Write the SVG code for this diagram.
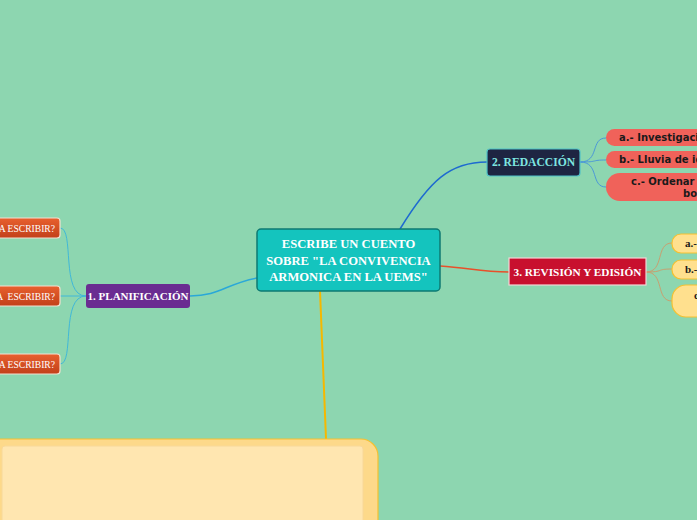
<svg xmlns="http://www.w3.org/2000/svg" width="697" height="520" viewBox="0 0 697 520">
<defs>
<linearGradient id="og" x1="0" y1="0" x2="0" y2="1"><stop offset="0" stop-color="#E8602E"/><stop offset="1" stop-color="#C2401A"/></linearGradient>
<style>
.serif{font-family:"Liberation Serif","DejaVu Serif",serif;font-weight:bold}
.sans{font-family:"DejaVu Sans","Liberation Sans",sans-serif;font-weight:bold}
.leftbox{fill:url(#og);stroke:#F3E0D0;stroke-width:1.2}
.leftlbl{fill:#FFFFFF;font-size:9.6px;text-anchor:end;font-weight:normal}
.redpill{fill:#F0625A}
.pilltxt{fill:#1A1A1A;font-size:10px}
.yel{fill:#FFE08E;stroke:#F5C030;stroke-width:1.2}
.yeltxt{fill:#1A1A1A;font-size:11px}
</style>
</defs>
<rect width="697" height="520" fill="#8DD6B0"/>
<g id="connectors" fill="none">
<path d="M400,229 C430,180 450,162 487,162" stroke="#1E6AD0" stroke-width="1.5"/>
<path d="M580,162 C600,162 590,138 606,138" stroke="#4C98D8" stroke-width="1"/>
<path d="M580,162 C600,162 590,160 606,160" stroke="#4C98D8" stroke-width="1"/>
<path d="M580,162 C600,162 590,187 606,187" stroke="#4C98D8" stroke-width="1"/>
<path d="M440,266 C470,268 480,272 509,272" stroke="#E8502A" stroke-width="1.5"/>
<path d="M646,272 C665,272 655,243 672,243" stroke="#C8A070" stroke-width="1"/>
<path d="M646,272 C665,272 655,269 672,269" stroke="#C8A070" stroke-width="1"/>
<path d="M646,272 C665,272 655,301 672,301" stroke="#C8A070" stroke-width="1"/>
<path d="M257,278 C225,284 220,296 190,296" stroke="#2AA8D8" stroke-width="1.5"/>
<path d="M86,296 C60,296 75,228 60,228" stroke="#40B8D8" stroke-width="1"/>
<path d="M86,296 L60,296" stroke="#40B8D8" stroke-width="1"/>
<path d="M86,296 C60,296 75,364 60,364" stroke="#40B8D8" stroke-width="1"/>
<path d="M320,291 L326,439" stroke="#F5B800" stroke-width="2"/>
</g>
<g id="central">
<rect x="257" y="229" width="183" height="62" rx="4" fill="#14C4BE" stroke="#0E7A72" stroke-width="1.5"/>
<text class="serif" font-size="12.6" fill="#FFFFFF" text-anchor="middle"><tspan x="348.5" y="248">ESCRIBE UN CUENTO</tspan><tspan x="348.5" y="265">SOBRE "LA CONVIVENCIA</tspan><tspan x="348.5" y="281">ARMONICA EN LA UEMS"</tspan></text>
</g>
<g id="redaccion">
<rect x="487" y="149" width="93" height="27" rx="3" fill="#1E2542" stroke="#4FC0C8" stroke-width="1.2"/>
<text class="serif" x="533.5" y="166" font-size="11.6" fill="#7FE6E0" text-anchor="middle">2. REDACCIÓN</text>
</g>
<g id="red-a">
<rect class="redpill" x="606" y="129" width="110" height="17" rx="8.5"/>
<text class="sans pilltxt" x="619" y="141">a.- Investigación</text>
</g>
<g id="red-b">
<rect class="redpill" x="606" y="151" width="110" height="17" rx="8.5"/>
<text class="sans pilltxt" x="619" y="163">b.- Lluvia de ideas</text>
</g>
<g id="red-c">
<rect class="redpill" x="606" y="173" width="110" height="28" rx="14"/>
<text class="sans pilltxt"><tspan x="631" y="185">c.- Ordenar ideas</tspan><tspan x="683" y="197">borrador</tspan></text>
</g>
<g id="revision">
<rect x="509" y="258" width="137" height="27" fill="#C8102E" stroke="#F2D6D6" stroke-width="1.2"/>
<text class="serif" x="577.5" y="276" font-size="11.3" fill="#FFFFFF" text-anchor="middle">3. REVISIÓN Y EDISIÓN</text>
</g>
<g id="rev-a">
<rect class="yel" x="672" y="234" width="60" height="19" rx="9"/>
<text class="serif yeltxt" x="685" y="247">a.-</text>
</g>
<g id="rev-b">
<rect class="yel" x="672" y="260" width="60" height="19" rx="9"/>
<text class="serif yeltxt" x="685" y="273">b.-</text>
</g>
<g id="rev-c">
<rect class="yel" x="672" y="285" width="60" height="32" rx="14"/>
<text class="serif yeltxt" x="694" y="299">c</text>
</g>
<g id="planificacion">
<rect x="86" y="284" width="104" height="24" rx="3" fill="#6A2C91"/>
<text class="serif" x="138" y="300" font-size="11" fill="#FFFFFF" text-anchor="middle">1. PLANIFICACIÓN</text>
</g>
<g id="plan-a">
<rect class="leftbox" x="-40" y="218" width="100" height="20" rx="3"/>
<text class="serif leftlbl" x="55" y="232">A ESCRIBIR?</text>
</g>
<g id="plan-b">
<rect class="leftbox" x="-40" y="286" width="100" height="20" rx="3"/>
<text class="serif leftlbl" x="55" y="300" xml:space="preserve">A  ESCRIBIR?</text>
</g>
<g id="plan-c">
<rect class="leftbox" x="-40" y="354" width="100" height="20" rx="3"/>
<text class="serif leftlbl" x="55" y="368">A ESCRIBIR?</text>
</g>
<g id="bottom-note">
<rect x="-20" y="439" width="398" height="120" rx="17" fill="#FDD98A" stroke="#F5C030" stroke-width="1.2"/>
<rect x="2" y="446" width="361" height="100" rx="3" fill="#FFE6B0" stroke="#F8D898" stroke-width="1"/>
</g>
</svg>
